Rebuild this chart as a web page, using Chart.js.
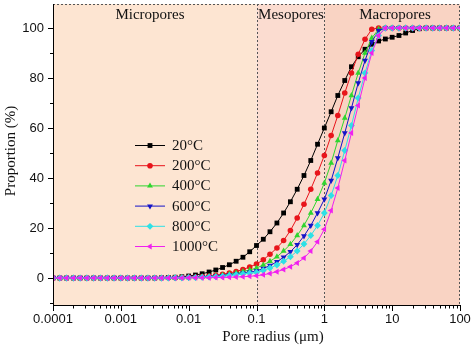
<!DOCTYPE html>
<html>
<head>
<meta charset="utf-8">
<script src="https://cdn.jsdelivr.net/npm/chart.js@4.4.0/dist/chart.umd.min.js"></script>
<style>
html, body { margin: 0; padding: 0; background: #fff; }
</style>
</head>
<body>
<canvas id="chart" width="474" height="346"></canvas>
<script>
// pore radius (um), 10 points per decade
var radius = [0.0001, 0.000126, 0.000158, 0.0002, 0.000251, 0.000316, 0.000398, 0.000501, 0.000631, 0.000794,
    0.001, 0.00126, 0.00158, 0.002, 0.00251, 0.00316, 0.00398, 0.00501, 0.00631, 0.00794,
    0.01, 0.0126, 0.0158, 0.02, 0.0251, 0.0316, 0.0398, 0.0501, 0.0631, 0.0794,
    0.1, 0.126, 0.158, 0.2, 0.251, 0.316, 0.398, 0.501, 0.631, 0.794,
    1, 1.26, 1.58, 2, 2.51, 3.16, 3.98, 5.01, 6.31, 7.94,
    10, 12.6, 15.8, 20, 25.1, 31.6, 39.8, 50.1, 63.1, 79.4, 100];

var t20 = [0, 0, 0, 0, 0, 0, 0, 0, 0, 0, 0, 0, 0, 0, 0, 0,
    0.1, 0.2, 0.3, 0.5, 0.8, 1.2, 1.7, 2.4, 3.2, 4.2, 5.3, 6.7, 8.3, 10.5,
    13, 15.5, 18.5, 22, 26, 30.5, 35.5, 41, 47, 53.5, 60, 66.5, 73, 79, 84.5, 88.5,
    91.5, 93.5, 94.8, 95.6, 96.3, 97, 98, 99, 99.7, 100, 100, 100, 100, 100, 100];
var t200 = [0, 0, 0, 0, 0, 0, 0, 0, 0, 0, 0, 0, 0, 0, 0, 0,
    0, 0.1, 0.1, 0.2, 0.3, 0.4, 0.6, 0.8, 1.1, 1.5, 2, 2.6, 3.4, 4.4,
    5.6, 7.3, 9.5, 12, 15, 19, 24, 29.5, 35.5, 42, 49, 57, 65, 74, 82, 89.5,
    95.5, 99.5, 100, 100, 100, 100, 100, 100, 100, 100, 100, 100, 100, 100, 100];
var t400 = [0, 0, 0, 0, 0, 0, 0, 0, 0, 0, 0, 0, 0, 0, 0, 0,
    0, 0.1, 0.1, 0.1, 0.2, 0.3, 0.4, 0.6, 0.8, 1.1, 1.5, 2, 2.6, 3.2,
    4, 5.2, 6.7, 8.5, 10.8, 13.5, 17, 21, 26, 31.5, 38, 46, 55, 64, 73, 82,
    90, 96, 99.5, 100, 100, 100, 100, 100, 100, 100, 100, 100, 100, 100, 100];
var t600 = [0, 0, 0, 0, 0, 0, 0, 0, 0, 0, 0, 0, 0, 0, 0, 0,
    0, 0.1, 0.1, 0.1, 0.2, 0.3, 0.4, 0.5, 0.7, 0.9, 1.2, 1.5, 1.9, 2.3,
    2.8, 3.8, 5, 6.5, 8.3, 10.5, 13.3, 16.8, 21, 26, 31.5, 39, 48, 58, 68, 78,
    87, 94.5, 99, 100, 100, 100, 100, 100, 100, 100, 100, 100, 100, 100, 100];
var t800 = [0, 0, 0, 0, 0, 0, 0, 0, 0, 0, 0, 0, 0, 0, 0, 0,
    0, 0, 0.1, 0.1, 0.2, 0.2, 0.3, 0.4, 0.5, 0.7, 1, 1.3, 1.6, 1.9,
    2.2, 3, 4, 5.2, 6.7, 8.5, 10.8, 13.6, 17, 21, 26, 33, 41, 51, 61, 72,
    82, 91, 97, 100, 100, 100, 100, 100, 100, 100, 100, 100, 100, 100, 100];
var t1000 = [0, 0, 0, 0, 0, 0, 0, 0, 0, 0, 0, 0, 0, 0, 0, 0,
    0, 0, 0, 0, 0.1, 0.1, 0.1, 0.1, 0.2, 0.2, 0.3, 0.4, 0.5, 0.7,
    0.9, 1.3, 1.8, 2.5, 3.4, 4.5, 6, 8, 10.8, 14.5, 19.5, 27, 36, 47, 58, 69,
    80, 90, 97, 100, 100, 100, 100, 100, 100, 100, 100, 100, 100, 100, 100];

var seriesNames = ["20°C", "200°C", "400°C", "600°C", "800°C", "1000°C"];
var seriesValues = [t20, t200, t400, t600, t800, t1000];
var seriesColors = ["#000000", "#e8141b", "#2fd52f", "#1414c8", "#2ee0e6", "#f020f0"];
var seriesStyles = ["rect", "circle", "triangle", "triangle", "rectRot", "triangle"];
var seriesRotation = [0, 0, 0, 180, 0, 270];
var seriesRadius = [3.4, 2.8, 3.4, 3.4, 3.4, 3.4];

var xTicks = [0.0001, 0.001, 0.01, 0.1, 1, 10, 100];
var xTickLabels = ["0.0001", "0.001", "0.01", "0.1", "1", "10", "100"];
var yTicks = [0, 20, 40, 60, 80, 100];
var yMinor = [-10, 10, 30, 50, 70, 90];

var regions = [
    { name: "Micropores", from: 0.0001, to: 0.1, color: "#fde5d2", labelX: 150 },
    { name: "Mesopores", from: 0.1, to: 1, color: "#fbdcd0", labelX: 291 },
    { name: "Macropores", from: 1, to: 100, color: "#f9d3c3", labelX: 395 }
];

var serif = "'Liberation Serif', 'Times New Roman', serif";
var sans = "'Liberation Sans', Arial, sans-serif";

var datasets = seriesNames.map(function (name, i) {
    return {
        label: name,
        data: radius.map(function (r, j) { return { x: r, y: seriesValues[i][j] }; }),
        borderColor: seriesColors[i],
        backgroundColor: seriesColors[i],
        borderWidth: 1,
        pointStyle: seriesStyles[i],
        rotation: seriesRotation[i],
        pointRadius: seriesRadius[i],
        pointBorderWidth: 0,
        tension: 0,
        order: seriesNames.length - i
    };
});

var decorPlugin = {
    id: "decor",
    beforeDatasetsDraw: function (chart) {
        var ctx = chart.ctx, a = chart.chartArea, xs = chart.scales.x;
        ctx.save();
        regions.forEach(function (r) {
            var x1 = xs.getPixelForValue(r.from), x2 = xs.getPixelForValue(r.to);
            ctx.fillStyle = r.color;
            ctx.fillRect(x1, a.top, x2 - x1, a.bottom - a.top);
        });
        ctx.strokeStyle = "#555";
        ctx.lineWidth = 1;
        ctx.setLineDash([2, 2]);
        [0.1, 1].forEach(function (v) {
            var x = Math.round(xs.getPixelForValue(v)) + 0.5;
            ctx.beginPath(); ctx.moveTo(x, a.top); ctx.lineTo(x, a.bottom); ctx.stroke();
        });
        ctx.beginPath();
        ctx.moveTo(a.left, a.top + 0.5); ctx.lineTo(a.right - 0.5, a.top + 0.5);
        ctx.lineTo(a.right - 0.5, a.bottom);
        ctx.stroke();
        ctx.setLineDash([]);
        ctx.fillStyle = "#111";
        ctx.font = "15px " + serif;
        ctx.textAlign = "center";
        ctx.textBaseline = "middle";
        regions.forEach(function (r) { ctx.fillText(r.name, r.labelX, a.top + 11); });
        ctx.restore();
    },
    afterDraw: function (chart) {
        var ctx = chart.ctx, a = chart.chartArea, xs = chart.scales.x, ys = chart.scales.y;
        ctx.save();
        ctx.strokeStyle = "#000";
        ctx.lineWidth = 1;
        // axes
        ctx.beginPath();
        ctx.moveTo(a.left + 0.5, a.top); ctx.lineTo(a.left + 0.5, a.bottom + 0.5);
        ctx.lineTo(a.right, a.bottom + 0.5);
        ctx.stroke();
        // y ticks
        ctx.beginPath();
        yTicks.forEach(function (v) {
            var y = Math.round(ys.getPixelForValue(v)) + 0.5;
            ctx.moveTo(a.left - 5, y); ctx.lineTo(a.left, y);
        });
        yMinor.forEach(function (v) {
            var y = Math.round(ys.getPixelForValue(v)) + 0.5;
            ctx.moveTo(a.left - 3, y); ctx.lineTo(a.left, y);
        });
        // x ticks
        xTicks.forEach(function (v, i) {
            var x = Math.round(xs.getPixelForValue(v)) + 0.5;
            ctx.moveTo(x, a.bottom); ctx.lineTo(x, a.bottom + 6);
            if (i < xTicks.length - 1) {
                for (var m = 2; m < 10; m++) {
                    var xm = Math.round(xs.getPixelForValue(v * m)) + 0.5;
                    ctx.moveTo(xm, a.bottom); ctx.lineTo(xm, a.bottom + 3.5);
                }
            }
        });
        ctx.stroke();
        // axis titles
        ctx.fillStyle = "#111";
        ctx.font = "15px " + serif;
        ctx.textAlign = "center";
        ctx.textBaseline = "middle";
        ctx.fillText("Pore radius (μm)", 273, 337);
        ctx.save();
        ctx.translate(11, 151);
        ctx.rotate(-Math.PI / 2);
        ctx.fillText("Proportion (%)", 0, 0);
        ctx.restore();
        // legend
        ctx.textAlign = "left";
        chart.data.datasets.forEach(function (ds, i) {
            var y = 145 + i * 20.2;
            ctx.strokeStyle = ds.borderColor;
            ctx.lineWidth = 1;
            ctx.beginPath(); ctx.moveTo(135, y + 0.5); ctx.lineTo(165, y + 0.5); ctx.stroke();
            ctx.fillStyle = ds.backgroundColor;
            Chart.helpers.drawPoint(ctx, {
                pointStyle: ds.pointStyle, rotation: ds.rotation,
                radius: ds.pointRadius, borderWidth: 0
            }, 150, y + 0.5);
            ctx.fillStyle = "#111";
            ctx.fillText(ds.label, 172, y + 1);
        });
        ctx.restore();
    }
};

new Chart(document.getElementById("chart"), {
    type: "line",
    data: { datasets: datasets },
    plugins: [decorPlugin],
    options: {
        responsive: false,
        animation: false,
        layout: { padding: { top: 4, right: 14, left: 0, bottom: 0 } },
        plugins: { legend: { display: false }, tooltip: { enabled: false } },
        scales: {
            x: {
                type: "logarithmic",
                min: 0.0001,
                max: 100,
                afterFit: function (s) { s.height = 41; s.paddingLeft = 0; s.paddingRight = 0; },
                afterBuildTicks: function (s) {
                    s.ticks = xTicks.map(function (v) { return { value: v, major: true }; });
                },
                grid: { display: false, drawTicks: false },
                border: { display: false },
                ticks: {
                    autoSkip: false,
                    maxRotation: 0,
                    padding: 7,
                    color: "#111",
                    font: { family: sans, size: 13 },
                    callback: function (v, i) { return xTickLabels[i]; }
                }
            },
            y: {
                min: -10.8,
                max: 109.6,
                afterFit: function (s) { s.width = 53; s.paddingTop = 0; s.paddingBottom = 0; },
                afterBuildTicks: function (s) {
                    s.ticks = yTicks.map(function (v) { return { value: v }; });
                },
                grid: { display: false, drawTicks: false },
                border: { display: false },
                ticks: {
                    padding: 9,
                    color: "#111",
                    font: { family: sans, size: 13 },
                    callback: function (v) { return String(v); }
                }
            }
        }
    }
});
</script>
</body>
</html>
